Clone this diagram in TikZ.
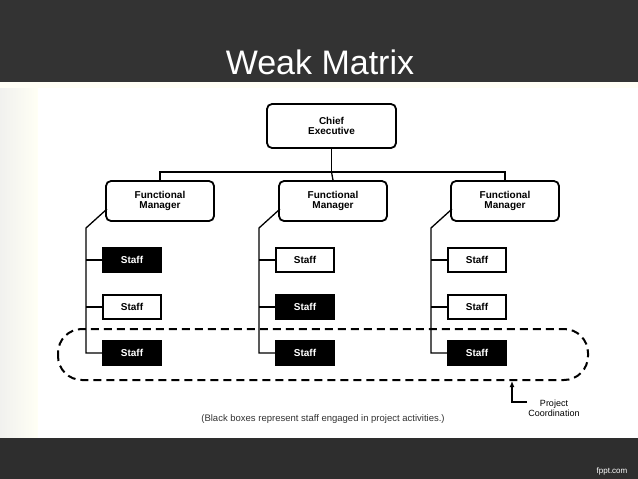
\documentclass[tikz,border=0pt]{standalone}
\usepackage{fontspec}
\setmainfont{Liberation Sans}
\usetikzlibrary{arrows.meta}
\begin{document}
\begin{tikzpicture}[x=1pt,y=-1pt,
  box/.style={draw=black,line width=1.8pt,rounded corners=5pt,align=center,font=\bfseries\fontsize{10}{10.5}\selectfont,inner sep=0pt},
  staffw/.style={draw=black,line width=1.6pt,fill=white,minimum width=58pt,minimum height=24pt,inner sep=0pt,font=\bfseries\fontsize{10}{11}\selectfont},
  staffb/.style={staffw,fill=black,text=white},
  ln/.style={line width=1.3pt}]
\useasboundingbox (0,0) rectangle (638,479);
\fill[gray!6!yellow!4] (0,82) rectangle (638,438);
\shade[left color=yellow!8!gray!12,right color=yellow!4] (0,88) rectangle (38,438);
\fill[white] (38,88) rectangle (638,438);
\fill[black!80] (0,0) rectangle (638,82);
\fill[black!82] (0,438) rectangle (638,479);
\node[text=white,font=\fontsize{34}{36}\selectfont] (title) at (320,62) {Weak Matrix};
\node[text=white,font=\fontsize{8}{9}\selectfont] (fppt) at (612,471) {fppt.com};

\node[box,minimum width=129pt,minimum height=44pt] (ce) at (331.5,126) {Chief\\Executive};
\foreach \n/\x in {f1/160,f2/333,f3/505}
  \node[box,minimum width=108pt,minimum height=40pt] (\n) at (\x,201) {Functional\\Manager};
\coordinate (bus) at (331.5,172);
\draw[ln] (ce.south) -- (bus);
\draw[ln] (f1.north) -- (160,172) -- (505,172) -- (f3.north);
\draw[ln] (bus) -- (f2.north);

\foreach \c/\x/\a/\b/\d in {1/86/staffb/staffw/staffb,2/259/staffw/staffb/staffb,3/431/staffw/staffw/staffb}{
  \node[\a] (s\c a) at (\x+46,260) {Staff};
  \node[\b] (s\c b) at (\x+46,307) {Staff};
  \node[\d] (s\c c) at (\x+46,353) {Staff};
  \coordinate (v\c) at (\x,228);
  \coordinate (e\c) at (\x,353);
  \draw[ln] (\x+21,209) -- (v\c) -- (e\c) -- (s\c c.west);
  \draw[ln] (\x,260) -- (s\c a.west);
  \draw[ln] (\x,307) -- (s\c b.west);
}
\draw[ln,line width=2pt,dash pattern=on 8pt off 5pt,rounded corners=24pt] (58,329) rectangle (588,380);
\coordinate (arr) at (512,381);
\draw[line width=1.4pt,-{Latex[length=6pt,width=5pt]}] (527,402) -- (512,402) -- (arr);
\node[font=\fontsize{9}{10}\selectfont,align=center] (pc) at (554,408) {Project\\Coordination};
\node[font=\fontsize{9.5}{10}\selectfont,text=black!80] (cap) at (323,419) {(Black boxes represent staff engaged in project activities.)};
\end{tikzpicture}
\end{document}
